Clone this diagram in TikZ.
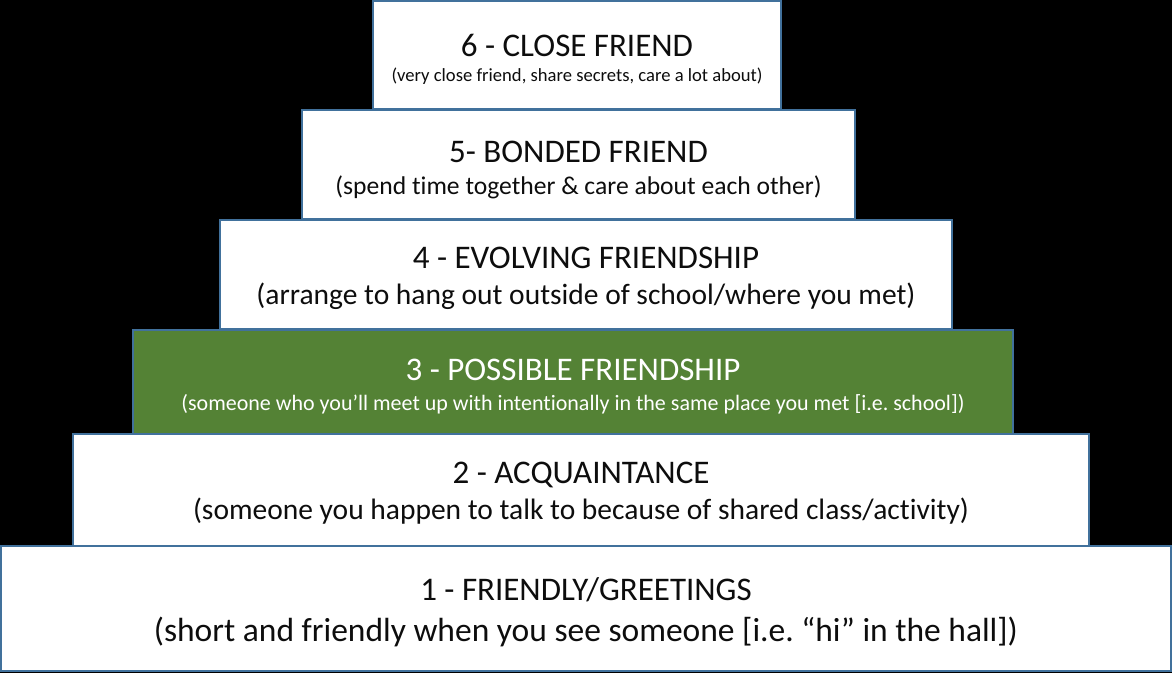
\documentclass[tikz,border=0pt]{standalone}
\usepackage{fontspec}
\setmainfont{Carlito}[Ligatures={NoCommon,NoContextual}]
\frenchspacing
\definecolor{edgeblue}{RGB}{65,113,156}
\definecolor{levelgreen}{RGB}{84,130,53}
\definecolor{inkdark}{RGB}{13,13,13}
\tikzset{
  level/.style={draw=edgeblue, line width=1.3pt, fill=white, rectangle, inner sep=0pt},
  levelhi/.style={level, fill=levelgreen},
  ttl/.style={anchor=base, inner sep=0pt, text=inkdark, font=\fontsize{33}{38}\selectfont},
  sub/.style={anchor=base, inner sep=0pt, text=inkdark},
}
\begin{document}
\begin{tikzpicture}[x=1pt,y=-1pt]
\fill[black] (0,0) rectangle (1172,673);
\useasboundingbox (0,0) rectangle (1172,673);
% boxes
\node[level, minimum width=408pt, minimum height=108pt] (b6) at (577,55) {};
\node[level, minimum width=553pt, minimum height=109pt] (b5) at (578.5,164.5) {};
\node[level, minimum width=732pt, minimum height=109pt] (b4) at (586,274.5) {};
\node[levelhi, minimum width=880pt, minimum height=104pt] (b3) at (573,382) {};
\node[level, minimum width=1016pt, minimum height=112pt] (b2) at (581,490) {};
\node[level, minimum width=1170pt, minimum height=125pt] (b1) at (586,608.5) {};
% texts
\node[ttl] (t6) at (577,56) {6 - CLOSE FRIEND};
\node[sub, font=\fontsize{18.6}{22}\selectfont] (s6) at (577,81) {(very close friend, share secrets, care a lot about)};
\node[ttl] (t5) at (578.5,162) {5- BONDED FRIEND};
\node[sub, font=\fontsize{25.6}{30}\selectfont] (s5) at (578.5,194) {(spend time together \& care about each other)};
\node[ttl] (t4) at (586,268) {4 - EVOLVING FRIENDSHIP};
\node[sub, font=\fontsize{29.5}{34}\selectfont] (s4) at (586,304) {(arrange to hang out outside of school/where you met)};
\node[ttl, text=white] (t3) at (573,380) {3 - POSSIBLE FRIENDSHIP};
\node[sub, text=white, font=\fontsize{22}{26}\selectfont] (s3) at (573,410) {(someone who you’ll meet up with intentionally in the same place you met [i.e. school])};
\node[ttl] (t2) at (581,483) {2 - ACQUAINTANCE};
\node[sub, font=\fontsize{29.5}{34}\selectfont] (s2) at (581,519) {(someone you happen to talk to because of shared class/activity)};
\node[ttl] (t1) at (586,600) {1 - FRIENDLY/GREETINGS};
\node[sub, font=\fontsize{33.5}{39}\selectfont] (s1) at (586,641) {(short and friendly when you see someone [i.e. “hi” in the hall])};
\end{tikzpicture}
\end{document}
